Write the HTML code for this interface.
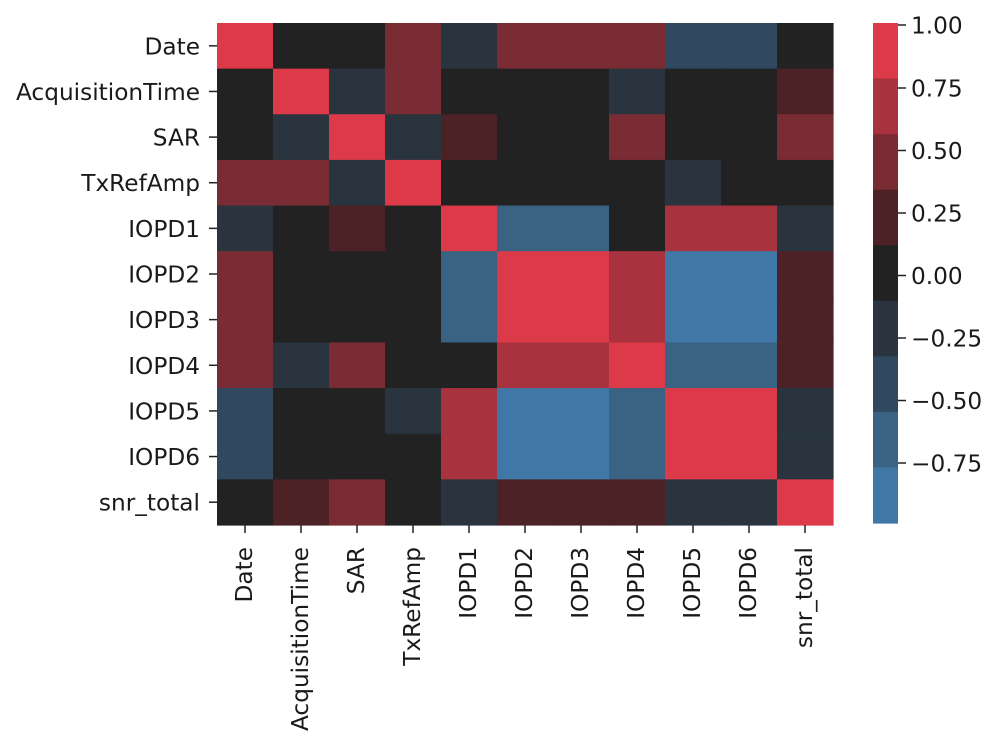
<!DOCTYPE html>
<html><head><meta charset="utf-8"><style>
html,body{margin:0;padding:0;background:#fff;}
svg text{font-family:"DejaVu Sans","Liberation Sans",sans-serif;font-size:23px;fill:#1a1a1a;}
</style></head><body>
<svg width="1000" height="741" viewBox="0 0 1000 741" xmlns="http://www.w3.org/2000/svg">
<g id="cells"></g>
<g id="labels"></g>
</svg>
<script>
const C=["","#dc3a48","#a8323e","#7a2c34","#4c2226","#222222","#29343f","#30495e","#3a6283","#3f78a6"];
const M=[
[1,5,5,3,6,3,3,3,7,7,5],
[5,1,6,3,5,5,5,6,5,5,4],
[5,6,1,6,4,5,5,3,5,5,3],
[3,3,6,1,5,5,5,5,6,5,5],
[6,5,4,5,1,8,8,5,2,2,6],
[3,5,5,5,8,1,1,2,9,9,4],
[3,5,5,5,8,1,1,2,9,9,4],
[3,6,3,5,5,2,2,1,8,8,4],
[7,5,5,6,2,9,9,8,1,1,6],
[7,5,5,5,2,9,9,8,1,1,6],
[5,4,3,5,6,4,4,4,6,6,1]];
const N=["Date","AcquisitionTime","SAR","TxRefAmp","IOPD1","IOPD2","IOPD3","IOPD4","IOPD5","IOPD6","snr_total"];
const L=217,T=23,W=616/11,H=502/11,SX=1.01;
let s="";
for(let r=0;r<11;r++)for(let c=0;c<11;c++){
 s+=`<rect x="${L+c*W}" y="${T+r*H}" width="${W+0.6}" height="${H+0.6}" fill="${C[M[r][c]]}"/>`;
}
let t="";
for(let i=0;i<11;i++){
 const y=T+(i+0.5)*H;
 t+=`<line x1="${L-8}" y1="${y}" x2="${L}" y2="${y}" stroke="#222" stroke-width="1.5"/>`;
 t+=`<text transform="translate(200,${y+8.5}) scale(${SX},1)" text-anchor="end">${N[i]}</text>`;
 const x=L+(i+0.5)*W;
 t+=`<line x1="${x}" y1="${T+502}" x2="${x}" y2="${T+510}" stroke="#222" stroke-width="1.5"/>`;
 t+=`<text transform="translate(${x+7},547) rotate(-90) scale(${SX},1)" text-anchor="end">${N[i]}</text>`;
}
const cx=873,cw=25,ct=23,cb=523,bh=(cb-ct)/9;
for(let i=0;i<9;i++){
 s+=`<rect x="${cx}" y="${ct+i*bh}" width="${cw}" height="${bh+0.6}" fill="${C[i+1]}"/>`;
}
const ticks=[["1.00",25],["0.75",88],["0.50",150.5],["0.25",213],["0.00",275.5],["\u22120.25",338],["\u22120.50",400.5],["\u22120.75",463]];
for(const [lab,y] of ticks){
 t+=`<line x1="${cx+cw}" y1="${y}" x2="${cx+cw+8}" y2="${y}" stroke="#222" stroke-width="1.5"/>`;
 t+=`<text transform="translate(${cx+cw+13},${y+8.5}) scale(${SX},1)">${lab}</text>`;
}
document.getElementById("cells").innerHTML=s;
document.getElementById("labels").innerHTML=t;
</script>
</body></html>
